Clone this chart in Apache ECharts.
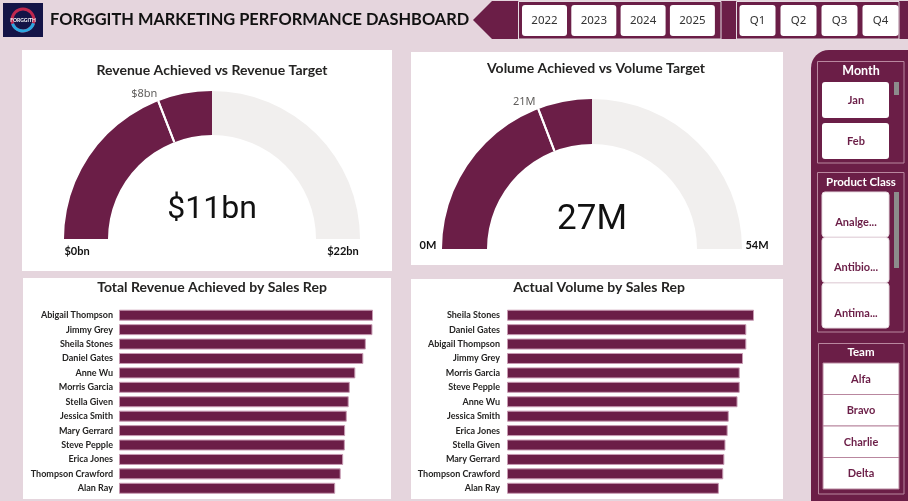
<!DOCTYPE html>
<html>
<head>
<meta charset="utf-8">
<script src="https://cdn.jsdelivr.net/npm/echarts@6/dist/echarts.min.js"></script>
<style>
  html, body { margin: 0; padding: 0; background: #E5D5DD; }
  #main { width: 908px; height: 501px; }
</style>
</head>
<body>
<div id="main"></div>
<script>
// slicer items
var years = ['2022', '2023', '2024', '2025'];
var quarters = ['Q1', 'Q2', 'Q3', 'Q4'];
var months = ['Jan', 'Feb'];
var productClasses = ['Analge...', 'Antibio...', 'Antima...'];
var teams = ['Alfa', 'Bravo', 'Charlie', 'Delta'];

// gauges (bn / M)
var revenueAchieved = 11, revenueTarget = 8.4, revenueMax = 22;
var volumeAchieved = 27, volumeTarget = 20.7, volumeMax = 54;

// revenue by sales rep (bn)
var revenueReps = ['Abigail Thompson', 'Jimmy Grey', 'Sheila Stones', 'Daniel Gates', 'Anne Wu', 'Morris Garcia',
  'Stella Given', 'Jessica Smith', 'Mary Gerrard', 'Steve Pepple', 'Erica Jones', 'Thompson Crawford', 'Alan Ray'];
var revenueValues = [0.920, 0.918, 0.894, 0.885, 0.856, 0.836, 0.832, 0.825, 0.819, 0.818, 0.812, 0.803, 0.783];

// volume by sales rep (M)
var volumeReps = ['Sheila Stones', 'Daniel Gates', 'Abigail Thompson', 'Jimmy Grey', 'Morris Garcia', 'Steve Pepple',
  'Anne Wu', 'Jessica Smith', 'Erica Jones', 'Stella Given', 'Mary Gerrard', 'Thompson Crawford', 'Alan Ray'];
var volumeValues = [2.25, 2.18, 2.18, 2.15, 2.12, 2.12, 2.10, 2.02, 2.01, 1.99, 1.98, 1.97, 1.93];

var maroon = '#6B1E47';
var font = 'Lato, "Open Sans", sans-serif';
var myChart = echarts.init(document.getElementById('main'));

function txt(x, y, text, size, weight, color, align, family) {
    return {
        type: 'text', x: x, y: y, silent: true,
        style: {
            text: text, fontSize: size, fontWeight: weight || 'normal', fill: color || '#252423',
            align: align || 'center', verticalAlign: 'middle', fontFamily: family || font
        }
    };
}
function box(x, y, w, h, fill, r, stroke) {
    return {
        type: 'rect', silent: true,
        shape: {x: x, y: y, width: w, height: h, r: r || 0},
        style: {fill: fill || 'none', stroke: stroke || null, lineWidth: stroke ? 1 : 0}
    };
}

var g = [];
// header
g.push(box(3, 3, 40, 34, '#141447'));
g.push({type: 'circle', shape: {cx: 23, cy: 20, r: 11}, style: {fill: 'none', stroke: '#c0284e', lineWidth: 3}});
g.push({type: 'arc', shape: {cx: 23, cy: 20, r: 11, startAngle: 0.3, endAngle: 2.8}, style: {stroke: '#2aa7e0', lineWidth: 3, fill: 'none'}});
g.push(txt(23, 20, 'FORGGITH', 5, 'bold', '#ffffff'));
g.push(txt(50, 20, 'FORGGITH MARKETING PERFORMANCE DASHBOARD', 16.4, 'bold', '#111111', 'left'));
g.push({type: 'polygon', silent: true, shape: {points: [[473, 20], [492, 1], [908, 1], [908, 39], [492, 39]]}, style: {fill: maroon}});
g.push(box(518.5, 1.5, 202.5, 37.5, null, 0, '#e6dde2'));
g.push(box(736.5, 1.5, 162.5, 37.5, null, 0, '#e6dde2'));
years.forEach(function (y, i) {
    var x = 522 + i * 49.3;
    g.push(box(x, 5, 45, 31, '#ffffff', 3));
    g.push(txt(x + 22.5, 21, y, 11.5, 'normal', '#333333', 'center', '"Noto Sans", sans-serif'));
});
quarters.forEach(function (q, i) {
    var x = 739.5 + i * 41;
    g.push(box(x, 5, 36, 31, '#ffffff', 3));
    g.push(txt(x + 18, 21, q, 11.5, 'normal', '#333333', 'center', '"Noto Sans", sans-serif'));
});

// panels
g.push(box(22, 50, 370, 221, '#ffffff'));
g.push(box(411, 52, 372, 213, '#ffffff'));
g.push(box(23, 278, 368, 221, '#ffffff'));
g.push(box(411, 279, 372, 220, '#ffffff'));
g.push(txt(212, 70, 'Revenue Achieved vs Revenue Target', 14, 'bold', '#252423'));
g.push(txt(596, 68, 'Volume Achieved vs Volume Target', 14, 'bold', '#252423'));
g.push(txt(212, 287, 'Total Revenue Achieved by Sales Rep', 14, 'bold', '#252423'));
g.push(txt(599, 287, 'Actual Volume by Sales Rep', 14, 'bold', '#252423'));
g.push(txt(77, 251, '$0bn', 11, 'bold', '#111111'));
g.push(txt(343, 251, '$' + revenueMax + 'bn', 11, 'bold', '#111111'));
g.push(txt(428, 245, '0M', 11, 'bold', '#111111'));
g.push(txt(757, 245, volumeMax + 'M', 11, 'bold', '#111111'));

// side panel
g.push({type: 'rect', silent: true, shape: {x: 811, y: 50, width: 97, height: 451, r: [18, 0, 0, 0]}, style: {fill: maroon}});
g.push(box(817.5, 61.5, 86.5, 101.5, null, 0, '#b9879f'));
g.push(txt(861, 71, 'Month', 12.5, 'bold', '#ffffff'));
months.forEach(function (m, i) {
    var y = 82 + i * 41;
    g.push(box(822, y, 67, 36, '#ffffff', 3));
    g.push(txt(856, y + 18, m, 11, 'bold', maroon));
});
g.push(box(894, 82, 5, 13, '#8c8c8c'));
g.push(box(817.5, 172.5, 86.5, 159.5, null, 0, '#b9879f'));
g.push(txt(861, 182, 'Product Class', 11.5, 'bold', '#ffffff'));
productClasses.forEach(function (p, i) {
    var y = 192 + i * 45.5;
    g.push(box(822, y, 67, 45, '#ffffff', 3, '#e7d9e0'));
    g.push(txt(856, y + 30, p, 11, 'bold', maroon));
});
g.push(box(894, 192, 5, 76, '#8c8c8c'));
g.push(box(818.5, 343.5, 85.5, 150.5, null, 0, '#b9879f'));
g.push(txt(861, 352, 'Team', 11.5, 'bold', '#ffffff'));
teams.forEach(function (t, i) {
    var y = 363 + i * 31.5;
    g.push(box(823, y, 76, 31.5, '#ffffff', 0, '#b9879f'));
    g.push(txt(861, y + 16, t, 11, 'bold', maroon));
});

function gauge(center, radius, width, value, target, max, fmtValue, fmtTarget, detailY, size) {
    var a = Math.PI * (1 - target / max);
    var deg = a * 180 / Math.PI;
    var hidden = {
        axisTick: {show: false}, axisLabel: {show: false}, anchor: {show: false},
        title: {show: false}, pointer: {show: false}
    };
    var main = {
        type: 'gauge', center: center, radius: radius, startAngle: 180, endAngle: 0,
        min: 0, max: max, splitNumber: 1,
        axisLine: {lineStyle: {width: width, color: [[1, '#F1EFEE']]}},
        progress: {show: true, width: width, itemStyle: {color: maroon}},
        splitLine: {show: false},
        detail: {offsetCenter: [0, detailY], fontSize: size, fontWeight: 'normal', fontFamily: 'Roboto, sans-serif', color: '#111111', formatter: fmtValue},
        data: [{value: value}]
    };
    // target marker: a zero-length scale ending at the target angle, its split line is the marker
    var mark = {
        type: 'gauge', z: 5, center: center, radius: radius, startAngle: deg + 0.001, endAngle: deg,
        min: 0, max: target, splitNumber: 1,
        axisLine: {show: false, lineStyle: {width: 0}},
        progress: {show: false},
        splitLine: {show: true, length: width, distance: 0, lineStyle: {color: '#ffffff', width: 2}},
        detail: {
            offsetCenter: [radius * Math.cos(a) - 14, -radius * Math.sin(a) - 7],
            fontSize: 11, fontWeight: 'normal', fontFamily: '"Noto Sans", sans-serif', color: '#605e5c', formatter: fmtTarget
        },
        data: [{value: target}]
    };
    return [echarts.util.merge(main, hidden), echarts.util.merge(mark, hidden)];
}

function bars(idx, left, width, labelMargin, reps, values) {
    return {
        grid: {left: left, top: 308, width: width, height: 187.5},
        xAxis: {gridIndex: idx, type: 'value', min: 0, max: 'dataMax', show: false},
        yAxis: {
            gridIndex: idx, type: 'category', data: reps, inverse: true,
            axisLine: {show: false}, axisTick: {show: false},
            axisLabel: {margin: labelMargin, fontSize: 9, fontWeight: 'bold', color: '#252423', fontFamily: font}
        },
        series: {
            type: 'bar', xAxisIndex: idx, yAxisIndex: idx, barWidth: 11, data: values,
            itemStyle: {color: maroon, borderColor: '#c79ab2', borderWidth: 1}
        }
    };
}
var b1 = bars(0, 119, 254, 6, revenueReps, revenueValues);
var b2 = bars(1, 507, 247, 7, volumeReps, volumeValues);

myChart.setOption({
    backgroundColor: '#E5D5DD',
    animation: false,
    graphic: {elements: g},
    grid: [b1.grid, b2.grid],
    xAxis: [b1.xAxis, b2.xAxis],
    yAxis: [b1.yAxis, b2.yAxis],
    series: [b1.series, b2.series]
        .concat(gauge([212, 239], 148, 44, revenueAchieved, revenueTarget, revenueMax,
            '${value}bn', function (v) { return '$' + Math.round(v) + 'bn'; }, -29, 32))
        .concat(gauge([592, 249], 150, 45, volumeAchieved, volumeTarget, volumeMax,
            '{value}M', function (v) { return Math.round(v) + 'M'; }, -29, 35))
});
</script>
</body>
</html>
